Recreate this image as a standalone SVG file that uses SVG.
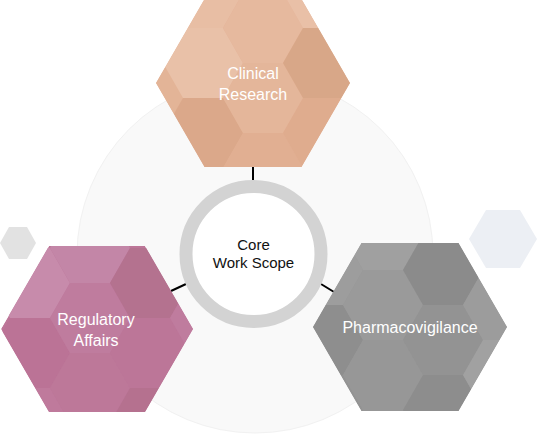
<svg xmlns="http://www.w3.org/2000/svg" xmlns:xlink="http://www.w3.org/1999/xlink" width="539" height="435" viewBox="0 0 539 435">
<style>
.lbl{font-family:"Liberation Sans",Arial,sans-serif;font-size:16px;fill:#fff;text-anchor:middle}
.core{font-family:"Liberation Sans",Arial,sans-serif;font-size:15px;fill:#111;text-anchor:middle}
.conn{stroke:#000;stroke-width:2}
</style>
<defs>
<path id="f" d="M-40,0 L-20,-35 L20,-35 L40,0 L20,35 L-20,35Z"/>
<clipPath id="cTop"><polygon points="156,83 204.5,-1 301.5,-1 350,83 301.5,167 204.5,167"/></clipPath>
<clipPath id="cLeft"><polygon points="1,329 49,246 145,246 193,329 145,412 49,412"/></clipPath>
<clipPath id="cRight"><polygon points="313,327 361.5,243 458.5,243 507,327 458.5,411 361.5,411"/></clipPath>
</defs>
<circle cx="255" cy="255" r="178" fill="#f9f9f9" stroke="#f1f1f1" stroke-width="1"/>
<polygon points="0,243 9,227 27,227 36,243 27,259 9,259" fill="#e2e2e2"/>
<polygon points="469,239 486,210 520,210 537,239 520,268 486,268" fill="#eceff4"/>
<g id="connectors">
<line class="conn" x1="253" y1="166" x2="253" y2="181"/>
<line class="conn" x1="171" y1="291" x2="186" y2="284"/>
<line class="conn" x1="321" y1="284" x2="334" y2="292"/>
</g>
<g id="core">
<circle cx="253.5" cy="254" r="67.5" fill="#fff" stroke="#d3d3d3" stroke-width="13"/>
<text class="core" x="253.5" y="250">Core</text>
<text class="core" x="253.5" y="268">Work Scope</text>
</g>
<g id="clinical">
<g clip-path="url(#cTop)">
<polygon points="156,83 204.5,-1 301.5,-1 350,83 301.5,167 204.5,167" fill="#e3b295"/>
<use xlink:href="#f" x="143" y="28" fill="#e9c2aa"/>
<use xlink:href="#f" x="143" y="98" fill="#e3b497"/>
<use xlink:href="#f" x="143" y="168" fill="#dfac8e"/>
<use xlink:href="#f" x="203" y="-7" fill="#e8bea4"/>
<use xlink:href="#f" x="203" y="63" fill="#e9c1a8"/>
<use xlink:href="#f" x="203" y="133" fill="#dba88a"/>
<use xlink:href="#f" x="263" y="28" fill="#e6b99e"/>
<use xlink:href="#f" x="263" y="98" fill="#e4b69a"/>
<use xlink:href="#f" x="263" y="168" fill="#e1af92"/>
<use xlink:href="#f" x="323" y="-7" fill="#e9c0a7"/>
<use xlink:href="#f" x="323" y="63" fill="#d8a788"/>
<use xlink:href="#f" x="323" y="133" fill="#dfac8e"/>
<use xlink:href="#f" x="383" y="98" fill="#dcaa8b"/>
</g>
<text class="lbl" x="253" y="79">Clinical</text>
<text class="lbl" x="253" y="99.5">Research</text>
</g>
<g id="regulatory">
<g clip-path="url(#cLeft)">
<polygon points="1,329 49,246 145,246 193,329 145,412 49,412" fill="#bd7698"/>
<use xlink:href="#f" x="30" y="283" fill="#c78bab"/>
<use xlink:href="#f" x="30" y="353" fill="#bb7396"/>
<use xlink:href="#f" x="30" y="423" fill="#bf7a9c"/>
<use xlink:href="#f" x="90" y="248" fill="#c386a7"/>
<use xlink:href="#f" x="90" y="318" fill="#bf7c9e"/>
<use xlink:href="#f" x="90" y="388" fill="#bd7899"/>
<use xlink:href="#f" x="150" y="283" fill="#b4728f"/>
<use xlink:href="#f" x="150" y="353" fill="#bc7698"/>
<use xlink:href="#f" x="150" y="423" fill="#b5718f"/>
<use xlink:href="#f" x="210" y="318" fill="#bf7c9e"/>
</g>
<text class="lbl" x="96" y="325">Regulatory</text>
<text class="lbl" x="96" y="345.5">Affairs</text>
</g>
<g id="pharmacovigilance">
<g clip-path="url(#cRight)">
<polygon points="313,327 361.5,243 458.5,243 507,327 458.5,411 361.5,411" fill="#979797"/>
<use xlink:href="#f" x="323" y="270" fill="#9d9d9d"/>
<use xlink:href="#f" x="323" y="340" fill="#8e8e8e"/>
<use xlink:href="#f" x="323" y="410" fill="#939393"/>
<use xlink:href="#f" x="383" y="235" fill="#a0a0a0"/>
<use xlink:href="#f" x="383" y="305" fill="#9a9a9a"/>
<use xlink:href="#f" x="383" y="375" fill="#979797"/>
<use xlink:href="#f" x="443" y="270" fill="#8b8b8b"/>
<use xlink:href="#f" x="443" y="340" fill="#939393"/>
<use xlink:href="#f" x="443" y="410" fill="#8d8d8d"/>
<use xlink:href="#f" x="503" y="305" fill="#9c9c9c"/>
<use xlink:href="#f" x="503" y="375" fill="#a1a1a1"/>
</g>
<text class="lbl" x="410" y="332.5">Pharmacovigilance</text>
</g>
</svg>
